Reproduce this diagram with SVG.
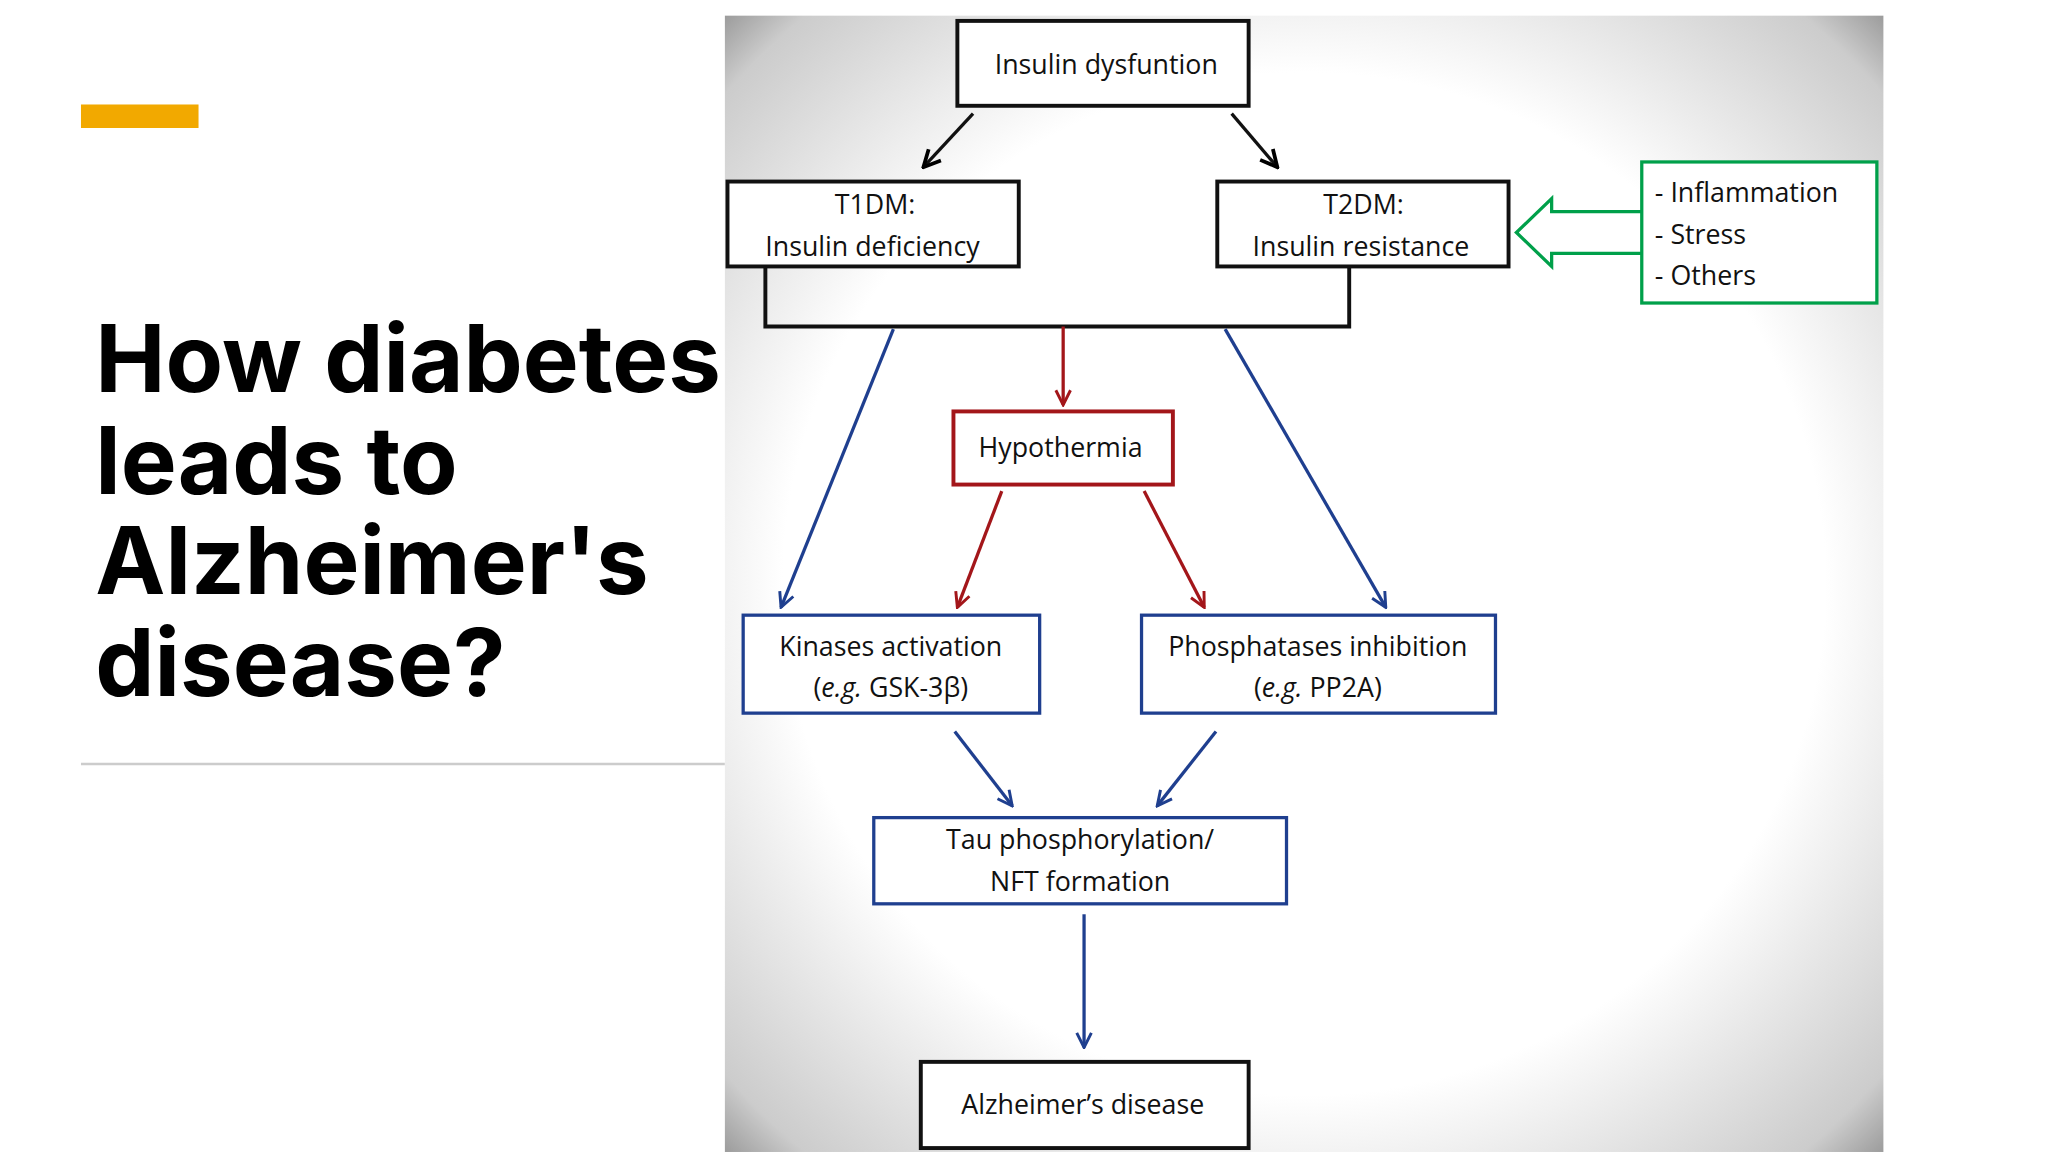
<svg xmlns="http://www.w3.org/2000/svg" width="2048" height="1152" viewBox="0 0 2048 1152">
<defs>
<radialGradient id="vig" cx="0.5" cy="0.5" r="0.75">
<stop offset="0.6" stop-color="#ffffff"/>
<stop offset="0.88" stop-color="#cccccc"/>
<stop offset="1" stop-color="#707070"/>
</radialGradient>
<marker id="ab" viewBox="0 0 10 10" refX="9" refY="5" markerWidth="14" markerHeight="14" orient="auto" markerUnits="userSpaceOnUse"><path d="M1,1 L9,5 L1,9" fill="none" stroke="#1f3f8f" stroke-width="1.6"/></marker>
<marker id="ar" viewBox="0 0 10 10" refX="9" refY="5" markerWidth="14" markerHeight="14" orient="auto" markerUnits="userSpaceOnUse"><path d="M1,1 L9,5 L1,9" fill="none" stroke="#a3161a" stroke-width="1.6"/></marker>
<marker id="abk" viewBox="0 0 10 10" refX="9" refY="5" markerWidth="16" markerHeight="16" orient="auto" markerUnits="userSpaceOnUse"><path d="M1,1 L9,5 L1,9" fill="none" stroke="#000" stroke-width="1.8"/></marker>
</defs>
<style>
.t{font-family:"Open Sans","Liberation Sans",sans-serif;font-size:20.5px;fill:#111;text-anchor:middle}
.bk{fill:#fff;stroke:#111;stroke-width:3}
.bl{fill:#fff;stroke:#1f3f8f;stroke-width:2.5}
.rd{fill:#fff;stroke:#a3161a;stroke-width:3}
.h{font-family:Inter,"Liberation Sans",sans-serif;font-weight:bold;font-size:72px;fill:#000}
</style>
<rect width="2048" height="1152" fill="#fff"/>
<g transform="scale(1.3061)">
<rect x="62" y="80" width="90" height="18" fill="#f2a900"/>
<text class="h" x="73" y="300">How diabetes</text>
<text class="h" x="73" y="378">leads to</text>
<text class="h" x="73" y="455">Alzheimer's</text>
<text class="h" x="73" y="533">disease?</text>
<line x1="62" y1="585" x2="555" y2="585" stroke="#ccc" stroke-width="2"/>
<rect x="555" y="12" width="887" height="870" fill="url(#vig)"/>
<g id="connectors" fill="none" stroke-width="2.5">
<path d="M586,204 V250 H1033 V204" stroke="#111" stroke-width="3"/>
<line x1="745" y1="87" x2="707" y2="128" stroke="#111" marker-end="url(#abk)"/>
<line x1="943" y1="87" x2="978" y2="128" stroke="#111" marker-end="url(#abk)"/>
<line x1="814" y1="250" x2="814" y2="310" stroke="#a3161a" marker-end="url(#ar)"/>
<line x1="684" y1="252" x2="598" y2="465" stroke="#1f3f8f" marker-end="url(#ab)"/>
<line x1="938" y1="252" x2="1061" y2="465" stroke="#1f3f8f" marker-end="url(#ab)"/>
<line x1="767" y1="376" x2="733" y2="465" stroke="#a3161a" marker-end="url(#ar)"/>
<line x1="876" y1="376" x2="922" y2="465" stroke="#a3161a" marker-end="url(#ar)"/>
<line x1="731" y1="560" x2="775" y2="617" stroke="#1f3f8f" marker-end="url(#ab)"/>
<line x1="931" y1="560" x2="886" y2="617" stroke="#1f3f8f" marker-end="url(#ab)"/>
<line x1="830" y1="700" x2="830" y2="802" stroke="#1f3f8f" marker-end="url(#ab)"/>
<path d="M1257,162 H1188 V152 L1161,178 L1188,204 V194 H1257" stroke="#00a04a" fill="#fff"/>
</g>
<g id="n1"><rect class="bk" x="733" y="16" width="223" height="65"/><text class="t" x="847" y="57">Insulin dysfuntion</text></g>
<g id="n2"><rect class="bk" x="557" y="139" width="223" height="65"/><text class="t" x="670" y="164">T1DM:</text><text class="t" x="668" y="196">Insulin deficiency</text></g>
<g id="n3"><rect class="bk" x="932" y="139" width="223" height="65"/><text class="t" x="1044" y="164">T2DM:</text><text class="t" x="1042" y="196">Insulin resistance</text></g>
<g id="n4"><rect x="1257" y="124" width="180" height="108" fill="#fff" stroke="#00a04a" stroke-width="2.5"/>
<text class="t" style="text-anchor:start" x="1267" y="155">- Inflammation</text><text class="t" style="text-anchor:start" x="1267" y="187">- Stress</text><text class="t" style="text-anchor:start" x="1267" y="218">- Others</text></g>
<g id="n5"><rect class="rd" x="730" y="315" width="168" height="56"/><text class="t" x="812" y="350">Hypothermia</text></g>
<g id="n6"><rect class="bl" x="569" y="471" width="227" height="75"/><text class="t" x="682" y="502">Kinases activation</text><text class="t" x="682" y="534">(<tspan font-style="italic">e.g.</tspan> GSK-3β)</text></g>
<g id="n7"><rect class="bl" x="874" y="471" width="271" height="75"/><text class="t" x="1009" y="502">Phosphatases inhibition</text><text class="t" x="1009" y="534">(<tspan font-style="italic">e.g.</tspan> PP2A)</text></g>
<g id="n8"><rect class="bl" x="669" y="626" width="316" height="66"/><text class="t" x="827" y="650">Tau phosphorylation/</text><text class="t" x="827" y="682">NFT formation</text></g>
<g id="n9"><rect class="bk" x="705" y="813" width="251" height="66"/><text class="t" x="829" y="853">Alzheimer’s disease</text></g>
</g>
</svg>
